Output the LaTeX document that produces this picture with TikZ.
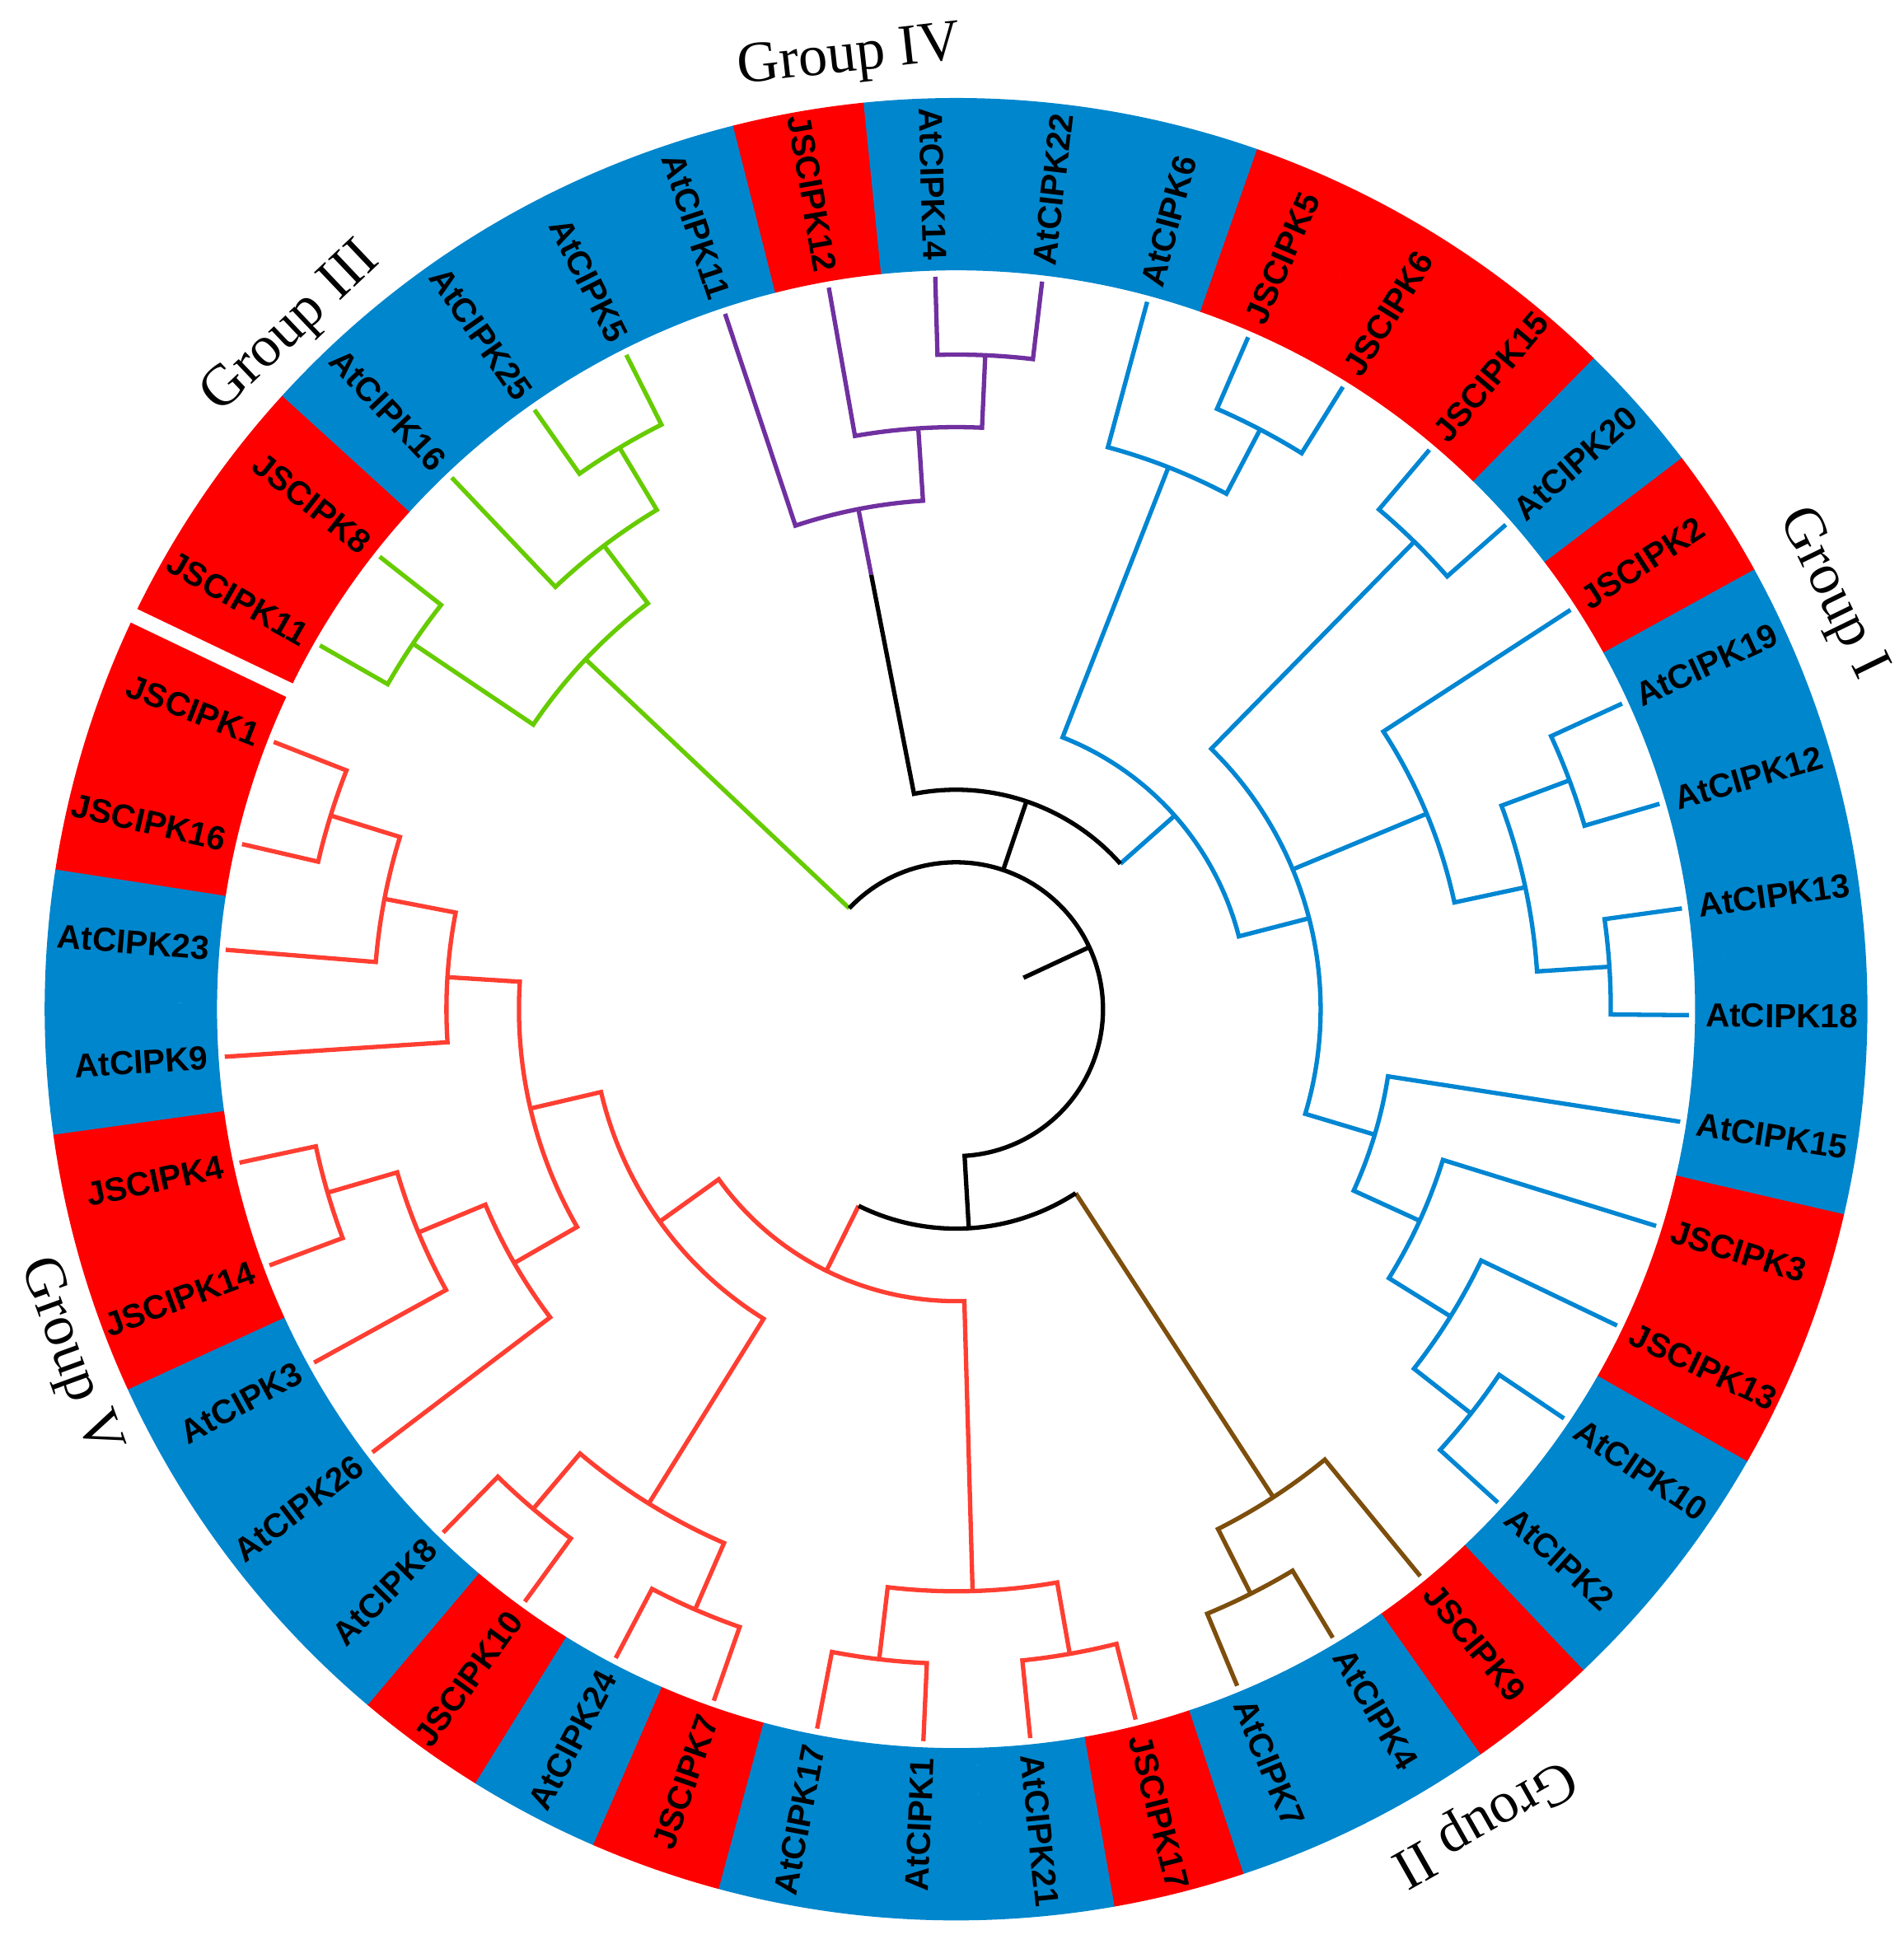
\documentclass[tikz,border=0pt]{standalone}
\usepackage{fontspec}
\setmainfont{Liberation Serif}
\newfontfamily\tipfont{Liberation Sans}
\usepackage{xcolor}
\usepackage{tikz}
\usetikzlibrary{positioning}

\definecolor{ringblue}{RGB}{0,134,205}
\definecolor{ringred}{RGB}{255,0,0}
\definecolor{cladeI}{RGB}{0,134,210}
\definecolor{cladeII}{RGB}{125,78,12}
\definecolor{cladeIII}{RGB}{102,204,0}
\definecolor{cladeIV}{RGB}{112,48,160}
\definecolor{cladeV}{RGB}{255,62,50}

\begin{document}
\begin{tikzpicture}[x=0.15mm, y=0.15mm,
        branch/.style={line width=1.5pt, line join=miter},
        trunk/.style={branch, draw=black},
        grpI/.style={branch, draw=cladeI},
        grpII/.style={branch, draw=cladeII},
        grpIII/.style={branch, draw=cladeIII},
        grpIV/.style={branch, draw=cladeIV},
        grpV/.style={branch, draw=cladeV},
        genename/.style={font=\tipfont\bfseries\fontsize{11.5}{12}\selectfont, inner sep=0pt},
        grouplabel/.style={font=\fontsize{20}{22}\selectfont, inner sep=0pt}
    ]
        \useasboundingbox (-771,-754) rectangle (764,814);

        % Ring, leaf tips and gene names
        \foreach \i/\gene/\band in {1/JSCIPK12/ringred, 2/AtCIPK14/ringblue, 3/AtCIPK22/ringblue,
            4/AtCIPK6/ringblue, 5/JSCIPK5/ringred, 6/JSCIPK6/ringred, 7/JSCIPK15/ringred,
            8/AtCIPK20/ringblue, 9/JSCIPK2/ringred, 10/AtCIPK19/ringblue, 11/AtCIPK12/ringblue,
            12/AtCIPK13/ringblue, 13/AtCIPK18/ringblue, 14/AtCIPK15/ringblue, 15/JSCIPK3/ringred,
            16/JSCIPK13/ringred, 17/AtCIPK10/ringblue, 18/AtCIPK2/ringblue, 19/JSCIPK9/ringred,
            20/AtCIPK4/ringblue, 21/AtCIPK7/ringblue, 22/JSCIPK17/ringred, 23/AtCIPK21/ringblue,
            24/AtCIPK1/ringblue, 25/AtCIPK17/ringblue, 26/JSCIPK7/ringred, 27/AtCIPK24/ringblue,
            28/JSCIPK10/ringred, 29/AtCIPK8/ringblue, 30/AtCIPK26/ringblue, 31/AtCIPK3/ringblue,
            32/JSCIPK14/ringred, 33/JSCIPK4/ringred, 34/AtCIPK9/ringblue, 35/AtCIPK23/ringblue,
            36/JSCIPK16/ringred, 37/JSCIPK1/ringred, 38/JSCIPK11/ringred, 39/JSCIPK8/ringred,
            40/AtCIPK16/ringblue, 41/AtCIPK25/ringblue, 42/AtCIPK5/ringblue, 43/AtCIPK11/ringblue} {
            \pgfmathsetmacro\ang{100-(\i-1)*360/43}
            \pgfmathsetmacro\flipang{\ang+180}
            \fill[\band] (\ang+4.2:596) arc[start angle=\ang+4.2, end angle=\ang-4.2, radius=596]
                -- (\ang-4.2:735) arc[start angle=\ang-4.2, end angle=\ang+4.2, radius=735] -- cycle;
            \coordinate (\gene) at (\ang:591);
            \pgfmathparse{cos(\ang)}
            \ifdim\pgfmathresult pt>0pt
                \node[genename, anchor=west, rotate=\ang] (lab\i) at (\ang:604) {\gene};
            \else
                \node[genename, anchor=east, rotate=\flipang] (lab\i) at (\ang:604) {\gene};
            \fi
        }
        \draw[white, line width=1.8mm] (-205.581:592) -- (-205.581:740);

        % Inner nodes
        \coordinate (p1) at (87.442:528);
        \coordinate (p2) at (93.721:469.5);
        \coordinate (p3) at (101.047:411);
        \coordinate (b1) at (62.326:528);
        \coordinate (b2) at (68.605:469.5);
        \coordinate (b3) at (45.581:528);
        \coordinate (b8) at (20.465:528);
        \coordinate (b11) at (3.721:528);
        \coordinate (b9) at (12.093:469.5);
        \coordinate (b7) at (22.558:411);
        \coordinate (l5) at (-38.140:528);
        \coordinate (l4) at (-31.860:469.5);
        \coordinate (l3) at (-24.535:411);
        \coordinate (l2) at (-16.686:352.5);
        \coordinate (y) at (14.448:294);
        \coordinate (b5) at (41.526:235.5);
        \coordinate (a) at (71.287:177);
        \coordinate (br1) at (-63.256:528);
        \coordinate (br) at (-56.977:469.5);
        \coordinate (rb2) at (-80:528);
        \coordinate (rb1) at (-96.744:528);
        \coordinate (rb) at (-88.372:469.5);
        \coordinate (r11) at (-113.488:528);
        \coordinate (r10) at (-130.233:528);
        \coordinate (r9) at (-121.861:469.5);
        \coordinate (r7) at (-163.721:528);
        \coordinate (r8) at (-157.442:469.5);
        \coordinate (r6) at (-150.117:411);
        \coordinate (r1) at (-197.209:528);
        \coordinate (r2) at (-190.930:469.5);
        \coordinate (r3) at (-183.605:411);
        \coordinate (r4) at (-166.861:352.5);
        \coordinate (r5) at (-144.361:294);
        \coordinate (r0) at (-116.367:235.5);
        \coordinate (c) at (-86.672:177);
        \coordinate (g4) at (-213.953:528);
        \coordinate (g1) at (-239.070:528);
        \coordinate (g2) at (-232.791:469.5);
        \coordinate (g5) at (-223.372:411);

        % Group IV
        \draw[grpIV] (AtCIPK14) -- (91.628:528) arc[start angle=91.628, end angle=83.256, radius=528] -- (AtCIPK22);
        \draw[grpIV] (JSCIPK12) -- (100:469.5) arc[start angle=100, end angle=87.442, radius=469.5] -- (p1);
        \draw[grpIV] (AtCIPK11) -- (108.372:411) arc[start angle=108.372, end angle=93.721, radius=411] -- (p2);
        \draw[grpIV] (p3) -- (101.047:357);

        % Group I
        \draw[grpI] (JSCIPK5) -- (66.512:528) arc[start angle=66.512, end angle=58.140, radius=528] -- (JSCIPK6);
        \draw[grpI] (AtCIPK6) -- (74.884:469.5) arc[start angle=74.884, end angle=62.326, radius=469.5] -- (b1);
        \draw[grpI] (JSCIPK15) -- (49.767:528) arc[start angle=49.767, end angle=41.395, radius=528] -- (AtCIPK20);
        \draw[grpI] (AtCIPK19) -- (24.651:528) arc[start angle=24.651, end angle=16.279, radius=528] -- (AtCIPK12);
        \draw[grpI] (AtCIPK13) -- (7.907:528) arc[start angle=7.907, end angle=-0.465, radius=528] -- (AtCIPK18);
        \draw[grpI] (b8) -- (20.465:469.5) arc[start angle=20.465, end angle=3.721, radius=469.5] -- (b11);
        \draw[grpI] (JSCIPK2) -- (33.023:411) arc[start angle=33.023, end angle=12.093, radius=411] -- (b9);
        \draw[grpI] (AtCIPK10) -- (-33.953:528) arc[start angle=-33.953, end angle=-42.326, radius=528] -- (AtCIPK2);
        \draw[grpI] (JSCIPK13) -- (-25.581:469.5) arc[start angle=-25.581, end angle=-38.140, radius=469.5] -- (l5);
        \draw[grpI] (JSCIPK3) -- (-17.209:411) arc[start angle=-17.209, end angle=-31.860, radius=411] -- (l4);
        \draw[grpI] (AtCIPK15) -- (-8.837:352.5) arc[start angle=-8.837, end angle=-24.535, radius=352.5] -- (l3);
        \draw[grpI] (b3) -- (45.581:294) arc[start angle=45.581, end angle=-16.686, radius=294] -- (l2);
        \draw[grpI] (b7) -- (22.558:294);
        \draw[grpI] (b2) -- (68.605:235.5) arc[start angle=68.605, end angle=14.448, radius=235.5] -- (y);
        \draw[grpI] (b5) -- (41.526:177);

        % Group II
        \draw[grpII] (AtCIPK4) -- (-59.070:528) arc[start angle=-59.070, end angle=-67.442, radius=528] -- (AtCIPK7);
        \draw[grpII] (JSCIPK9) -- (-50.698:469.5) arc[start angle=-50.698, end angle=-63.256, radius=469.5] -- (br1);
        \draw[grpII] (br) -- (-56.977:177);

        % Group V
        \draw[grpV] (JSCIPK17) -- (-75.814:528) arc[start angle=-75.814, end angle=-84.186, radius=528] -- (AtCIPK21);
        \draw[grpV] (AtCIPK1) -- (-92.558:528) arc[start angle=-92.558, end angle=-100.930, radius=528] -- (AtCIPK17);
        \draw[grpV] (rb2) -- (-80:469.5) arc[start angle=-80, end angle=-96.744, radius=469.5] -- (rb1);
        \draw[grpV] (JSCIPK7) -- (-109.302:528) arc[start angle=-109.302, end angle=-117.674, radius=528] -- (AtCIPK24);
        \draw[grpV] (JSCIPK10) -- (-126.047:528) arc[start angle=-126.047, end angle=-134.419, radius=528] -- (AtCIPK8);
        \draw[grpV] (r11) -- (-113.488:469.5) arc[start angle=-113.488, end angle=-130.233, radius=469.5] -- (r10);
        \draw[grpV] (JSCIPK14) -- (-159.535:528) arc[start angle=-159.535, end angle=-167.907, radius=528] -- (JSCIPK4);
        \draw[grpV] (AtCIPK3) -- (-151.163:469.5) arc[start angle=-151.163, end angle=-163.721, radius=469.5] -- (r7);
        \draw[grpV] (AtCIPK26) -- (-142.791:411) arc[start angle=-142.791, end angle=-157.442, radius=411] -- (r8);
        \draw[grpV] (JSCIPK16) -- (-193.023:528) arc[start angle=-193.023, end angle=-201.395, radius=528] -- (JSCIPK1);
        \draw[grpV] (AtCIPK23) -- (-184.651:469.5) arc[start angle=-184.651, end angle=-197.209, radius=469.5] -- (r1);
        \draw[grpV] (AtCIPK9) -- (-176.279:411) arc[start angle=-176.279, end angle=-190.930, radius=411] -- (r2);
        \draw[grpV] (r6) -- (-150.117:352.5) arc[start angle=-150.117, end angle=-183.605, radius=352.5] -- (r3);
        \draw[grpV] (r9) -- (-121.861:294) arc[start angle=-121.861, end angle=-166.861, radius=294] -- (r4);
        \draw[grpV] (rb) -- (-88.372:235.5) arc[start angle=-88.372, end angle=-144.361, radius=235.5] -- (r5);
        \draw[grpV] (r0) -- (-116.367:177);

        % Group III
        \draw[grpIII] (JSCIPK11) -- (-209.767:528) arc[start angle=-209.767, end angle=-218.140, radius=528] -- (JSCIPK8);
        \draw[grpIII] (AtCIPK25) -- (-234.884:528) arc[start angle=-234.884, end angle=-243.256, radius=528] -- (AtCIPK5);
        \draw[grpIII] (AtCIPK16) -- (-226.512:469.5) arc[start angle=-226.512, end angle=-239.070, radius=469.5] -- (g1);
        \draw[grpIII] (g4) -- (-213.953:411) arc[start angle=-213.953, end angle=-232.791, radius=411] -- (g2);
        \draw[grpIII] (g5) -- (136.628:118.5);

        % Backbone
        \draw[trunk] (101.047:357) -- (101.047:177) arc[start angle=101.047, end angle=41.526, radius=177];
        \draw[trunk] (-116.367:177) arc[start angle=-116.367, end angle=-56.977, radius=177];
        \draw[trunk] (136.628:118.5) arc[start angle=136.628, end angle=-86.672, radius=118.5] -- (c);
        \draw[trunk] (a) -- (71.287:118.5);
        \draw[trunk] (24.978:60) -- (24.978:118.5);

        % Group names
        \node[grouplabel, rotate=6.4] (gIV) at (96.4:772) {Group IV};
        \node[grouplabel, rotate=43.5] (gIII) at (134.3:767) {Group III};
        \node[grouplabel, rotate=-64] (gI) at (25.4:781) {Group I};
        \node[grouplabel, rotate=-150.5] (gII) at (-57.0:780) {Group II};
        \node[grouplabel, rotate=-70] (gV) at (201.4:769) {Group V};

    \end{tikzpicture}
\end{document}
